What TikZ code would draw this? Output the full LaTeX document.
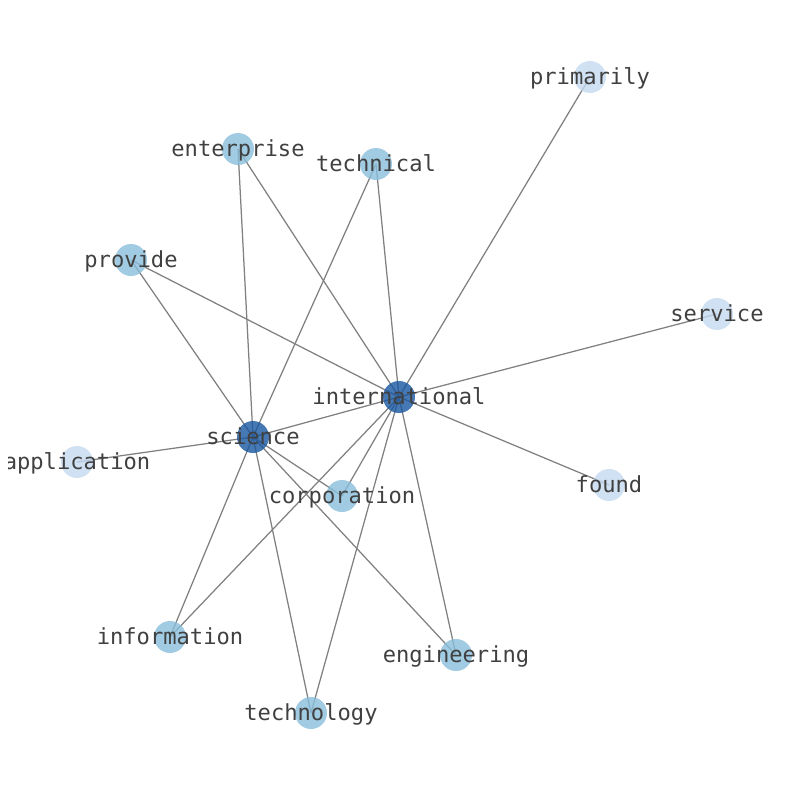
\documentclass[tikz,border=0pt]{standalone}
\usepackage{fontspec}
\newfontfamily\monofont{DejaVu Sans Mono}
\definecolor{edgegray}{RGB}{128,128,128}
\definecolor{txtgray}{RGB}{64,64,64}
\definecolor{darkblue}{RGB}{24,86,161}
\definecolor{midblue}{RGB}{136,190,219}
\definecolor{lightblue}{RGB}{195,217,239}
\tikzset{
  vert/.style={circle, minimum size=32bp, inner sep=0pt, fill opacity=0.8, draw=none},
  vdark/.style={vert, fill=darkblue},
  vmid/.style={vert, fill=midblue},
  vlight/.style={vert, fill=lightblue},
  lbl/.style={text=txtgray, font=\monofont\fontsize{22.2}{26}\selectfont, inner sep=0pt, text height=16.7bp, text depth=5.2bp, yshift=-2bp},
  edge/.style={draw=edgegray, line width=1.25bp}
}
\begin{document}
\begin{tikzpicture}[x=1bp,y=-1bp]
\useasboundingbox (0,0) rectangle (794,790);
\clip (8,0) rectangle (786,790);
\coordinate (pPrim) at (590,77);
\coordinate (pEnt) at (238,149);
\coordinate (pTech) at (376,164);
\coordinate (pProv) at (131,260);
\coordinate (pServ) at (717,314);
\coordinate (pInt) at (399,397);
\coordinate (pSci) at (253,437);
\coordinate (pApp) at (77,462);
\coordinate (pCorp) at (342,496);
\coordinate (pFound) at (609,485);
\coordinate (pInfo) at (170,637);
\coordinate (pEng) at (456,655);
\coordinate (pTechn) at (311,713);
% edges
\foreach \t in {pPrim,pServ,pFound,pEng,pTechn,pInfo,pCorp,pSci,pTech,pEnt,pProv}
  \draw[edge] (pInt) -- (\t);
\foreach \t in {pEnt,pTech,pProv,pApp,pCorp,pInfo,pTechn,pEng}
  \draw[edge] (pSci) -- (\t);
% nodes
\node[vlight] (primarily) at (pPrim) {};
\node[vmid] (enterprise) at (pEnt) {};
\node[vmid] (technical) at (pTech) {};
\node[vmid] (provide) at (pProv) {};
\node[vlight] (service) at (pServ) {};
\node[vdark] (international) at (pInt) {};
\node[vdark] (science) at (pSci) {};
\node[vlight] (application) at (pApp) {};
\node[vmid] (corporation) at (pCorp) {};
\node[vlight] (found) at (pFound) {};
\node[vmid] (information) at (pInfo) {};
\node[vmid] (engineering) at (pEng) {};
\node[vmid] (technology) at (pTechn) {};
% labels
\node[lbl] (lPrim) at (pPrim) {primarily};
\node[lbl] (lEnt) at (pEnt) {enterprise};
\node[lbl] (lTech) at (pTech) {technical};
\node[lbl] (lProv) at (pProv) {provide};
\node[lbl] (lServ) at (pServ) {service};
\node[lbl] (lInt) at (pInt) {international};
\node[lbl] (lSci) at (pSci) {science};
\node[lbl] (lApp) at (pApp) {application};
\node[lbl] (lCorp) at (pCorp) {corporation};
\node[lbl] (lFound) at (pFound) {found};
\node[lbl] (lInfo) at (pInfo) {information};
\node[lbl] (lEng) at (pEng) {engineering};
\node[lbl] (lTechn) at (pTechn) {technology};
\end{tikzpicture}
\end{document}
